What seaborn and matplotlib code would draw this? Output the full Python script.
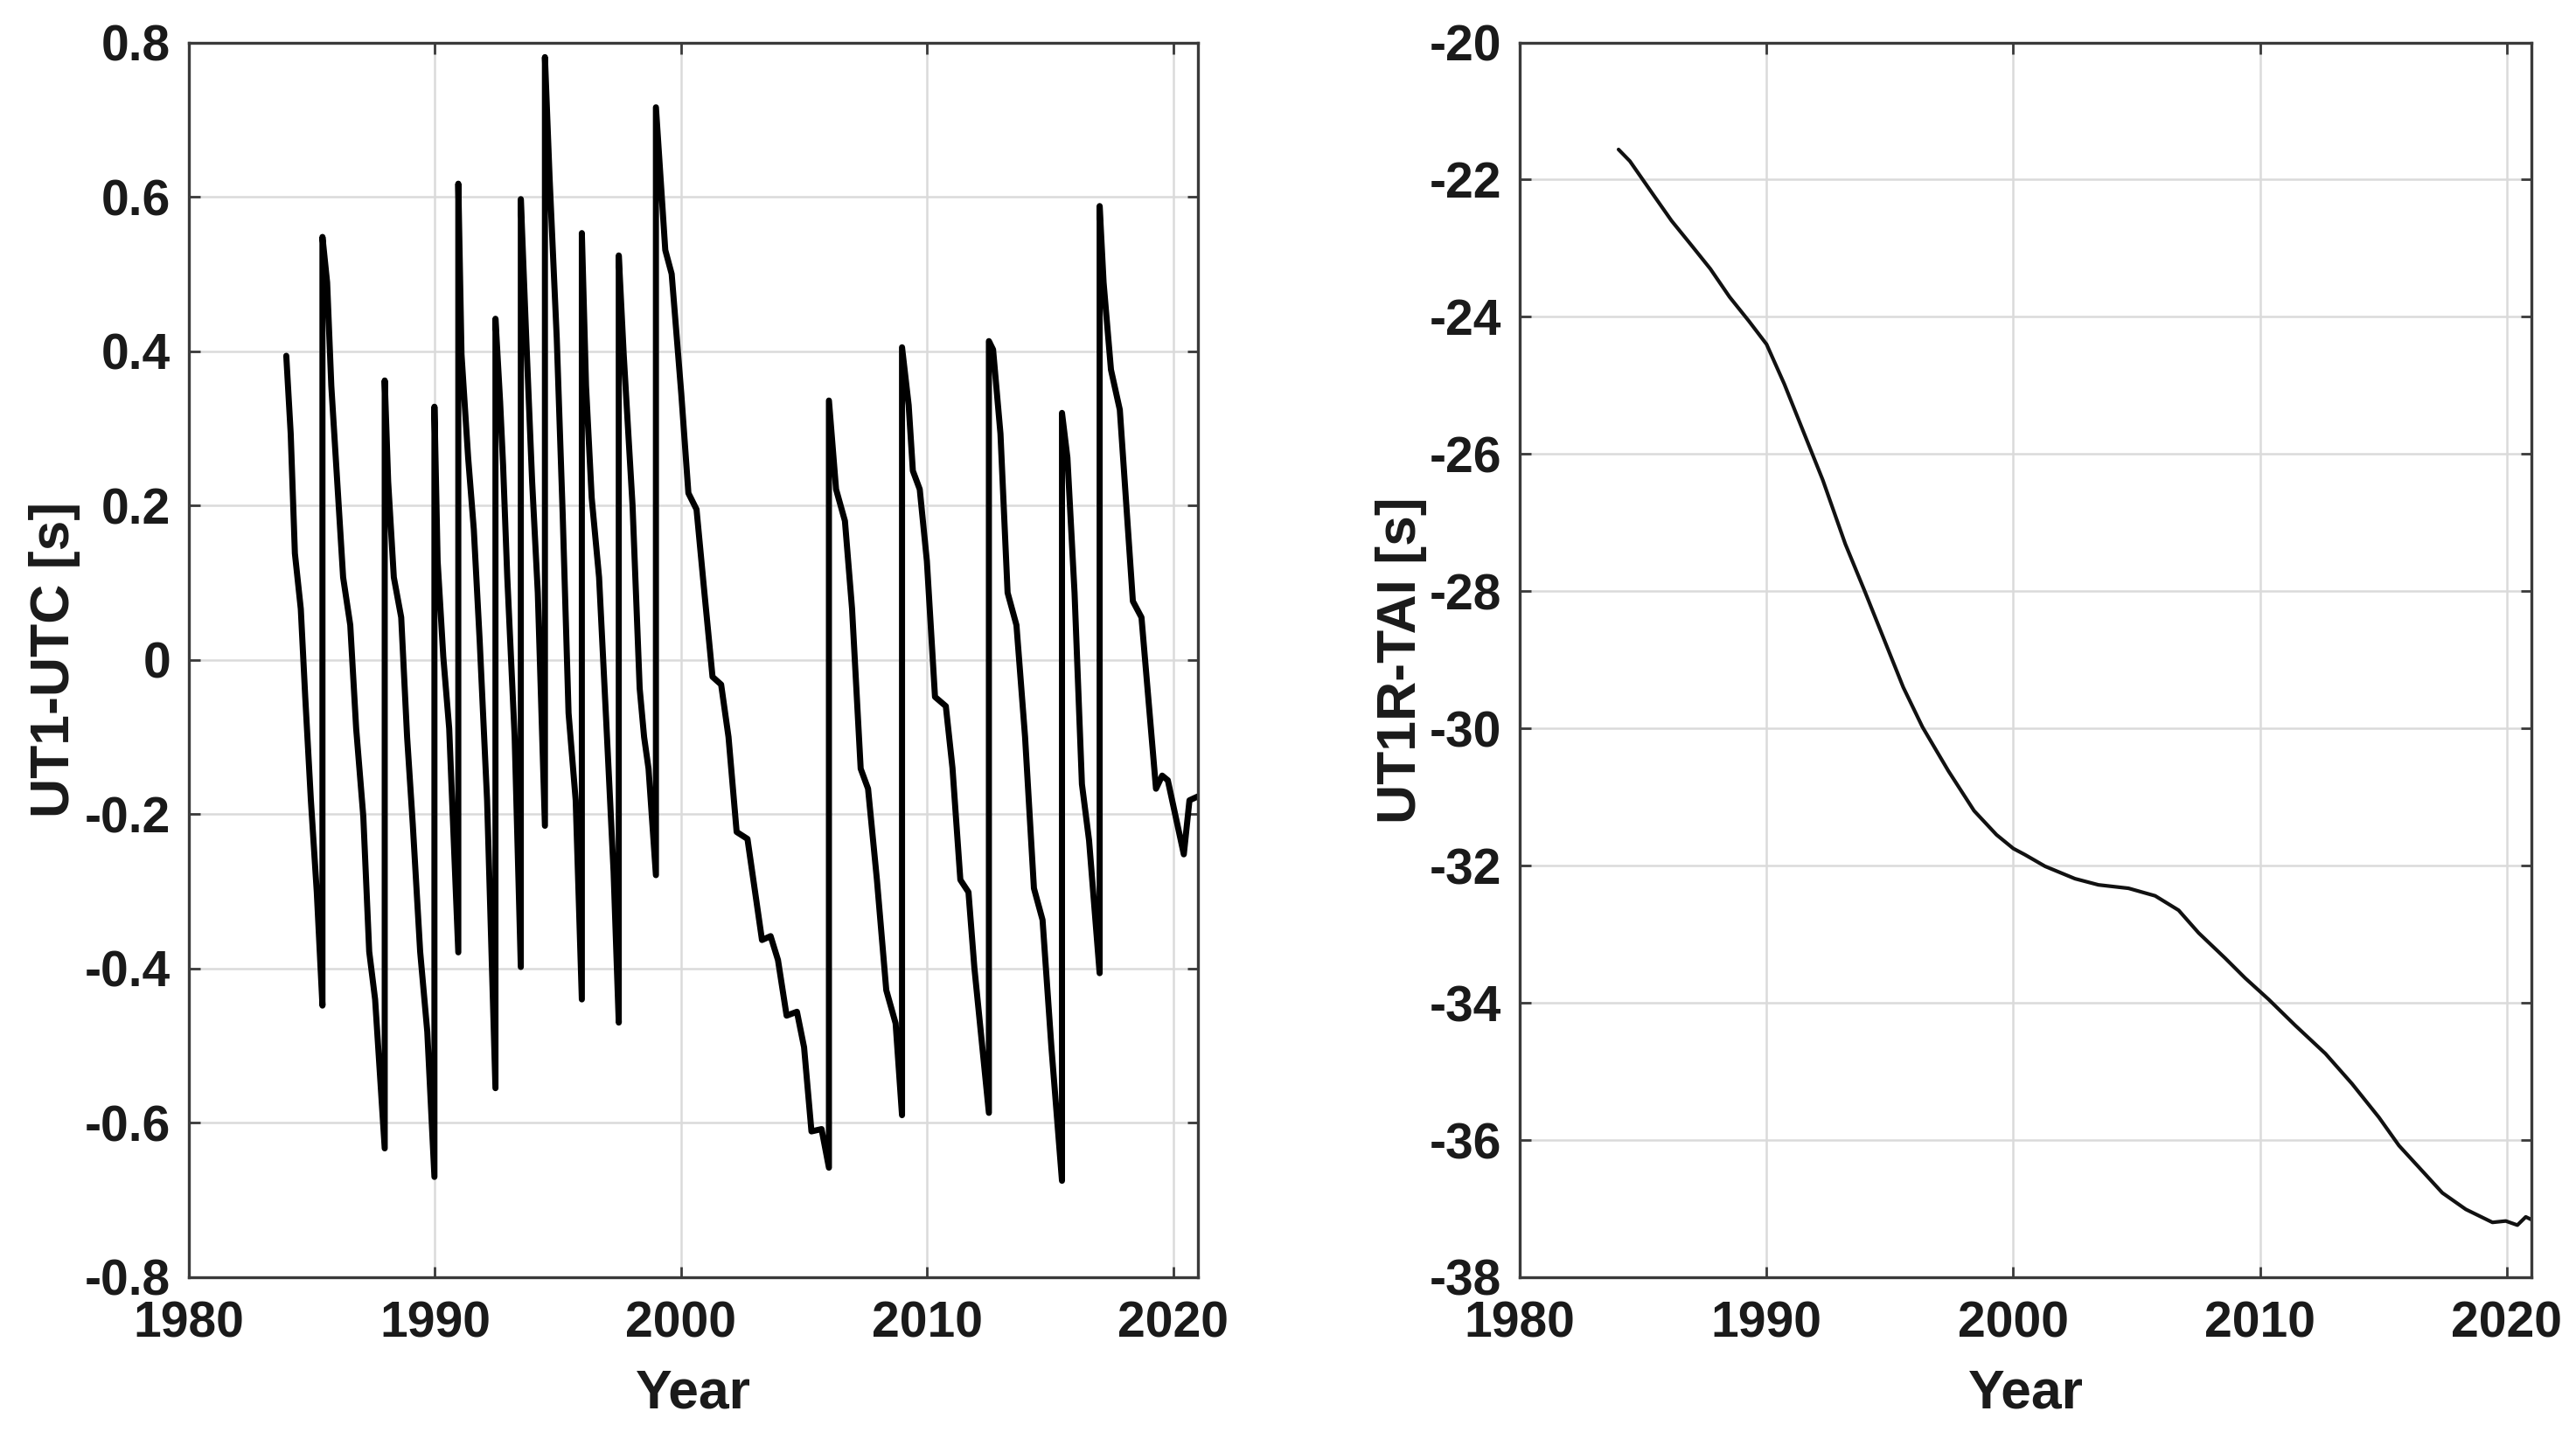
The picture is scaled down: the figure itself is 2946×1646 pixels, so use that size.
import numpy as np
import pandas as pd
import matplotlib
matplotlib.use("Agg")
import matplotlib.pyplot as plt
import seaborn as sns

# ─── DATA ─────────────────────────────────────────────────────────────────────
# UT1-UTC [s]; each leap second shows up as a repeated year with a jump
utc_years = [
    1983.96, 1984.14, 1984.31, 1984.55, 1984.73, 1984.96, 1985.20, 1985.43,
    1985.43, 1985.62, 1985.79, 1986.03, 1986.27, 1986.56, 1986.80, 1987.09, 1987.33, 1987.57, 1987.96,
    1987.96, 1988.10, 1988.33, 1988.63, 1988.87, 1989.10, 1989.40, 1989.69, 1989.98,
    1989.98, 1990.11, 1990.34, 1990.58, 1990.95,
    1990.95, 1991.08, 1991.35, 1991.58, 1991.82, 1992.12, 1992.46,
    1992.46, 1992.65, 1992.77, 1992.94, 1993.24, 1993.49,
    1993.49, 1993.71, 1993.95, 1994.18, 1994.47,
    1994.47, 1994.66, 1994.95, 1995.19, 1995.43, 1995.72, 1995.97,
    1995.97, 1996.14, 1996.37, 1996.67, 1996.96, 1997.26, 1997.47,
    1997.47, 1997.67, 1998.03, 1998.32, 1998.50, 1998.68, 1998.98,
    1998.98, 1999.36, 1999.62, 2000.01, 2000.30, 2000.63, 2000.92, 2001.28, 2001.63, 2001.93,
    2002.26, 2002.70, 2002.99, 2003.29, 2003.64, 2003.94, 2004.29, 2004.71, 2005.00, 2005.30,
    2005.71, 2006.01,
    2006.01, 2006.30, 2006.66, 2006.95, 2007.30, 2007.60, 2007.96, 2008.34, 2008.72, 2008.98,
    2008.98, 2009.25, 2009.42, 2009.70, 2009.99, 2010.32, 2010.76, 2011.03, 2011.35, 2011.68,
    2011.92, 2012.21, 2012.51,
    2012.51, 2012.68, 2012.98, 2013.27, 2013.63, 2013.98, 2014.34, 2014.69, 2015.05, 2015.48,
    2015.48, 2015.70, 2015.99, 2016.29, 2016.58, 2017.01,
    2017.01, 2017.17, 2017.47, 2017.83, 2018.36, 2018.71, 2019.30, 2019.55, 2019.78, 2020.13,
    2020.43, 2020.66, 2021.00,
]
utc_values = [
    0.394, 0.293, 0.138, 0.066, -0.048, -0.182, -0.301, -0.448,
    0.548, 0.489, 0.355, 0.231, 0.107, 0.045, -0.089, -0.203, -0.378, -0.440, -0.633,
    0.362, 0.231, 0.107, 0.055, -0.100, -0.213, -0.378, -0.482, -0.670,
    0.328, 0.128, 0.004, -0.089, -0.379,
    0.617, 0.396, 0.262, 0.169, 0.024, -0.182, -0.555,
    0.442, 0.334, 0.252, 0.107, -0.100, -0.398,
    0.597, 0.417, 0.231, 0.087, -0.215,
    0.781, 0.624, 0.417, 0.190, -0.069, -0.182, -0.440,
    0.553, 0.355, 0.210, 0.107, -0.079, -0.275, -0.470,
    0.524, 0.396, 0.200, -0.037, -0.100, -0.141, -0.279,
    0.716, 0.531, 0.500, 0.345, 0.216, 0.195, 0.097, -0.022, -0.032, -0.100,
    -0.223, -0.232, -0.296, -0.363, -0.358, -0.389, -0.461, -0.456, -0.502, -0.611,
    -0.608, -0.658,
    0.336, 0.221, 0.180, 0.066, -0.141, -0.167, -0.285, -0.428, -0.471, -0.590,
    0.405, 0.330, 0.245, 0.221, 0.128, -0.048, -0.060, -0.140, -0.285, -0.301,
    -0.399, -0.492, -0.587,
    0.413, 0.402, 0.293, 0.087, 0.045, -0.100, -0.296, -0.337, -0.502, -0.675,
    0.320, 0.262, 0.087, -0.161, -0.234, -0.406,
    0.588, 0.489, 0.376, 0.324, 0.076, 0.055, -0.167, -0.150, -0.156, -0.208,
    -0.252, -0.182, -0.177,
]

# UT1R-TAI [s]
tai_years = [
    1984.00, 1984.46, 1985.37, 1986.15, 1986.94, 1987.72, 1988.50, 1989.28, 1990.00, 1990.72,
    1991.50, 1992.28, 1993.19, 1993.98, 1994.76, 1995.54, 1996.32, 1997.37, 1998.41, 1999.32,
    2000.00, 2000.47, 2001.29, 2002.50, 2003.45, 2004.67, 2005.75, 2006.70, 2007.51, 2008.59,
    2009.40, 2010.35, 2011.43, 2012.65, 2013.73, 2014.82, 2015.63, 2016.37, 2017.39, 2018.34,
    2019.42, 2019.96, 2020.43, 2020.77, 2021.00,
]
tai_values = [
    -21.56, -21.73, -22.20, -22.60, -22.95, -23.30, -23.71, -24.06, -24.40, -24.98,
    -25.68, -26.38, -27.31, -28.00, -28.70, -29.40, -29.98, -30.62, -31.20, -31.55,
    -31.75, -31.84, -32.01, -32.19, -32.28, -32.33, -32.44, -32.65, -32.98, -33.35,
    -33.64, -33.95, -34.33, -34.74, -35.18, -35.67, -36.08, -36.37, -36.77, -37.01,
    -37.20, -37.18, -37.24, -37.12, -37.16,
]

year_ticks = [1980, 1990, 2000, 2010, 2020]
utc_ticks = [-0.8, -0.6, -0.4, -0.2, 0.0, 0.2, 0.4, 0.6, 0.8]
utc_ticklabels = ["-0.8", "-0.6", "-0.4", "-0.2", "0", "0.2", "0.4", "0.6", "0.8"]
tai_ticks = [-38, -36, -34, -32, -30, -28, -26, -24, -22, -20]
tai_ticklabels = ["-38", "-36", "-34", "-32", "-30", "-28", "-26", "-24", "-22", "-20"]

# ─── STYLE ────────────────────────────────────────────────────────────────────
sns.set_theme(style="ticks")
plt.rcParams["font.family"] = ["Liberation Sans", "DejaVu Sans"]
plt.rcParams["font.weight"] = "bold"
plt.rcParams["axes.labelweight"] = "bold"
plt.rcParams["axes.unicode_minus"] = False

TICK_FS = 20.5
LABEL_FS = 22.5
AX_COLOR = "#3a3a3a"
GRID_COLOR = "#dadada"


def style_axis(ax, yticks, yticklabels, ylim, ylabel, ylabel_x):
    ax.set_xlim(1980, 2021)
    ax.set_ylim(*ylim)
    ax.set_xticks(year_ticks)
    ax.set_xticklabels([str(t) for t in year_ticks], fontsize=TICK_FS, fontweight="bold")
    ax.set_yticks(yticks)
    ax.set_yticklabels(yticklabels, fontsize=TICK_FS, fontweight="bold")
    ax.tick_params(axis="both", direction="in", length=4.5, width=1.0, color=AX_COLOR,
                   top=True, right=True, labelcolor="#1a1a1a")
    ax.tick_params(axis="x", pad=9.5)
    ax.tick_params(axis="y", pad=7.5)
    ax.grid(True, color=GRID_COLOR, linewidth=0.9, linestyle="-")
    ax.set_axisbelow(True)
    for s in ax.spines.values():
        s.set_visible(True)
        s.set_color(AX_COLOR)
        s.set_linewidth(1.2)
    ax.set_xlabel("Year", fontsize=LABEL_FS, fontweight="bold", color="#1a1a1a")
    ax.set_ylabel(ylabel, fontsize=LABEL_FS, fontweight="bold", color="#1a1a1a")
    ax.xaxis.set_label_coords(0.5, -0.073)
    ax.yaxis.set_label_coords(ylabel_x, 0.5)


fig = plt.figure(figsize=(14.73, 8.23), dpi=200)
ax1 = fig.add_axes([0.0733, 0.1124, 0.3917, 0.8581])
ax2 = fig.add_axes([0.5900, 0.1124, 0.3927, 0.8581])

utc_df = pd.DataFrame({"Year": utc_years, "UT1-UTC": utc_values})
tai_df = pd.DataFrame({"Year": tai_years, "UT1R-TAI": tai_values})

sns.lineplot(data=utc_df, x="Year", y="UT1-UTC", estimator=None, sort=False,
             color="black", linewidth=2.5, ax=ax1)
sns.lineplot(data=tai_df, x="Year", y="UT1R-TAI", estimator=None, sort=False,
             color="#111111", linewidth=1.5, ax=ax2)

style_axis(ax1, utc_ticks, utc_ticklabels, (-0.8, 0.8), "UT1-UTC [s]", -0.107)
style_axis(ax2, tai_ticks, tai_ticklabels, (-38, -20), "UT1R-TAI [s]", -0.092)

fig.savefig("out.png", dpi=200, facecolor="white")
